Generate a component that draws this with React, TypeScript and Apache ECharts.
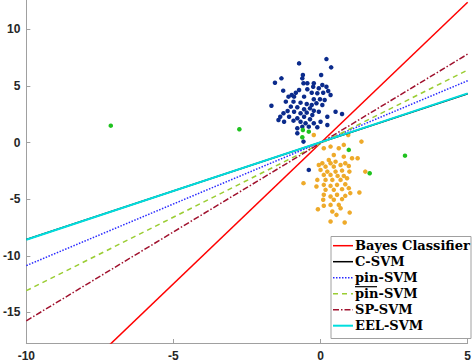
import React, { useEffect, useRef } from "react";
import * as echarts from "echarts";

// Decision boundary lines: y values at x = -10 and x = 5
const lineX = [-10, 5];
const bayesY = [-24.9, 12.4];
const cSvmY = [-8.55, 4.32];
const pinSvmY = [-10.86, 5.47];
const pinBarSvmY = [-13.08, 6.41];
const spSvmY = [-15.74, 7.82];
const eelSvmY = [-8.58, 4.35];

const seriesNames = ["Bayes Classifier", "C-SVM", "pin-SVM", "pin-SVM", "SP-SVM", "EEL-SVM"];

const xTicks = [-10, -5, 0, 5];
const yTicks = [-15, -10, -5, 0, 5, 10];

const bluePts: number[][] = [
  [0.20, 7.38], [-0.73, 7.00], [0.36, 6.65], [-0.60, 5.97], [0.02, 5.97], [-1.33, 5.68], [-1.55, 5.29],
  [-0.62, 5.68], [-0.58, 5.24], [-0.45, 5.24], [-0.23, 5.24], [0.06, 5.09], [-0.25, 4.94], [-0.06, 4.80],
  [0.20, 4.94], [-1.27, 4.59], [-0.73, 4.65], [-0.45, 4.71], [-0.84, 4.41], [-0.98, 4.21], [-1.09, 4.06],
  [-0.90, 4.06], [-0.30, 4.41], [-0.11, 4.36], [0.09, 4.41], [0.26, 4.56], [-0.56, 4.06], [-0.23, 3.83],
  [-0.02, 3.83], [0.14, 3.77], [0.34, 4.21], [-1.18, 3.62], [-0.92, 3.62], [-0.68, 3.53], [-0.47, 3.41],
  [-0.30, 3.33], [-0.14, 3.48], [0.06, 3.33], [-1.67, 3.26], [-1.01, 3.18], [-0.79, 3.12], [-0.56, 2.95],
  [-0.36, 3.03], [-0.23, 2.82], [-1.12, 2.80], [-1.26, 2.59], [-0.90, 2.73], [-0.68, 2.59], [-0.47, 2.65],
  [-0.28, 2.44], [-0.06, 2.73], [0.51, 2.73], [0.73, 2.53], [-1.37, 2.29], [-1.07, 2.29], [-0.79, 2.15],
  [-0.56, 2.29], [-0.36, 2.06], [0.23, 2.29], [-1.43, 2.00], [-1.24, 1.85], [-0.92, 1.94], [-0.68, 1.85],
  [-0.51, 1.71], [-0.23, 1.71], [0.00, 1.85], [0.23, 1.56], [-0.40, 1.41], [-0.79, 1.27], [-0.11, 1.36],
  [-0.62, 1.41], [-0.79, 0.83], [-0.58, 0.09], [-0.40, -2.41],
];

const orangePts: number[][] = [
  [-0.23, 0.68], [0.94, 0.68], [1.39, 0.09], [0.34, -0.35], [0.62, -0.49], [0.79, -0.20], [0.11, -0.49],
  [0.45, -1.09], [0.79, -1.24], [1.07, -1.38], [1.26, -1.38], [0.28, -1.53], [0.06, -1.82], [0.34, -1.82],
  [0.51, -1.68], [0.84, -1.82], [-0.06, -1.97], [0.17, -2.12], [0.45, -2.12], [0.68, -1.97], [0.96, -2.06],
  [0.00, -2.41], [0.23, -2.56], [0.51, -2.56], [0.73, -2.47], [0.98, -2.56], [0.11, -2.85], [0.34, -2.85],
  [0.58, -2.94], [0.79, -2.94], [1.52, -2.56], [-0.11, -3.29], [0.17, -3.29], [0.40, -3.29], [0.68, -3.29],
  [0.90, -3.14], [-0.58, -3.58], [-0.14, -3.88], [0.11, -3.73], [0.34, -3.82], [0.56, -3.73], [0.84, -3.67],
  [0.17, -4.17], [0.45, -4.17], [0.73, -4.11], [0.96, -4.02], [1.01, -4.46], [1.32, -4.41], [0.11, -4.61],
  [0.34, -4.76], [0.56, -4.61], [0.84, -4.70], [0.09, -5.05], [0.45, -5.05], [0.73, -4.99], [0.11, -5.58],
  [0.34, -5.50], [0.62, -5.50], [-0.09, -5.88], [0.68, -5.79], [0.40, -6.09], [0.99, -6.18], [0.54, -6.38],
  [0.34, -6.97], [0.82, -7.06],
];

const greenPts: number[][] = [
  [-7.13, 1.50], [-2.76, 1.18], [-0.60, 1.12], [-0.40, 0.97], [-0.62, 0.48], [0.96, -0.64], [1.67, -2.70], [2.87, -1.15],
];

const lineColors = ["#ff0000", "#000000", "#2a2aff", "#9acd32", "#a0122e", "#00dede"];
const lineWidths = [1.5, 1.5, 1.5, 1.5, 1.5, 2];
const lineDashes: (number[] | null)[] = [null, null, [1.5, 1.5], [5, 4], [6, 2, 1.5, 2], null];

const lineSeries = (idx: number, ys: number[]) => ({
  type: "line",
  name: seriesNames[idx],
  data: lineX.map((x, i) => [x, ys[i]]),
  showSymbol: false,
  symbol: "none",
  clip: true,
  silent: true,
  z: 3,
  lineStyle: {
    color: lineColors[idx],
    width: lineWidths[idx],
    type: lineDashes[idx] ? lineDashes[idx] : "solid",
  },
  itemStyle: { color: lineColors[idx] },
});

export default function App() {
  const ref = useRef<HTMLDivElement>(null);
  useEffect(() => {
    const chart = echarts.init(ref.current!, null, { renderer: "svg" });
    const axisLabelStyle = {
      fontFamily: "Liberation Sans",
      fontWeight: "bold",
      fontSize: 12,
      color: "#262626",
    };

    // Legend drawn with graphic elements (box, line samples, texts)
    const lgLeft = 331;
    const lgTop = 236.5;
    const lgW = 140;
    const lgH = 102;
    const rowH = 16;
    const firstRow = lgTop + 9.2;
    const legendEls: any[] = [
      {
        type: "rect",
        z: 50,
        shape: { x: lgLeft, y: lgTop, width: lgW, height: lgH },
        style: { fill: "#fff", stroke: "#a0a0a0", lineWidth: 1 },
      },
    ];
    seriesNames.forEach((name, i) => {
      const cy = firstRow + i * rowH;
      legendEls.push({
        type: "line",
        z: 51,
        shape: { x1: lgLeft + 2, y1: cy, x2: lgLeft + 22, y2: cy },
        style: {
          stroke: lineColors[i],
          lineWidth: lineWidths[i],
          lineDash: lineDashes[i] ? lineDashes[i] : null,
        },
      });
      legendEls.push({
        type: "text",
        z: 51,
        x: lgLeft + 24,
        y: cy,
        style: {
          text: name,
          fontFamily: "DejaVu Serif",
          fontWeight: "bold",
          fontSize: 13,
          fill: "#000",
          verticalAlign: "middle",
          align: "left",
        },
      });
    });
    // overline on "pin" of the 4th entry
    legendEls.push({
      type: "line",
      z: 52,
      shape: { x1: lgLeft + 24, y1: firstRow + 3 * rowH - 7, x2: lgLeft + 46, y2: firstRow + 3 * rowH - 7 },
      style: { stroke: "#000", lineWidth: 1.2 },
    });

    chart.setOption({
      animation: false,
      backgroundColor: "#fff",
      grid: { left: 24, right: 6, top: 0, bottom: 21, containLabel: false },
      xAxis: {
        type: "value",
        min: -10,
        max: 5,
        interval: 5,
        axisLine: { onZero: false, lineStyle: { color: "#a0a0a0", width: 1 } },
        axisTick: { inside: true, length: 4, lineStyle: { color: "#a0a0a0" }, customValues: xTicks },
        axisLabel: { ...axisLabelStyle, margin: 7, customValues: xTicks },
        splitLine: { show: false },
      },
      yAxis: {
        type: "value",
        min: -17.7,
        max: 12.6,
        axisLine: { show: true, onZero: false, lineStyle: { color: "#a0a0a0", width: 1 } },
        axisTick: { show: true, inside: true, length: 4, lineStyle: { color: "#a0a0a0" }, customValues: yTicks },
        axisLabel: { ...axisLabelStyle, margin: 6, customValues: yTicks },
        splitLine: { show: false },
      },
      series: [
        { type: "scatter", name: "class1", data: bluePts, symbolSize: 4.5, itemStyle: { color: "#0b2b8c", opacity: 1 }, silent: true, z: 2 },
        { type: "scatter", name: "class2", data: orangePts, symbolSize: 4.5, itemStyle: { color: "#eeaa2a", opacity: 1 }, silent: true, z: 2 },
        { type: "scatter", name: "outliers", data: greenPts, symbolSize: 4.5, itemStyle: { color: "#1fc21f", opacity: 1 }, silent: true, z: 2 },
        lineSeries(1, cSvmY),
        lineSeries(0, bayesY),
        lineSeries(2, pinSvmY),
        lineSeries(3, pinBarSvmY),
        lineSeries(4, spSvmY),
        lineSeries(5, eelSvmY),
      ],
      graphic: legendEls,
    });
    return () => chart.dispose();
  }, []);
  return (
    <div
      ref={ref}
      style={{ position: "absolute", left: 0, top: 0, width: 474, height: 364, background: "#fff" }}
    />
  );
}
